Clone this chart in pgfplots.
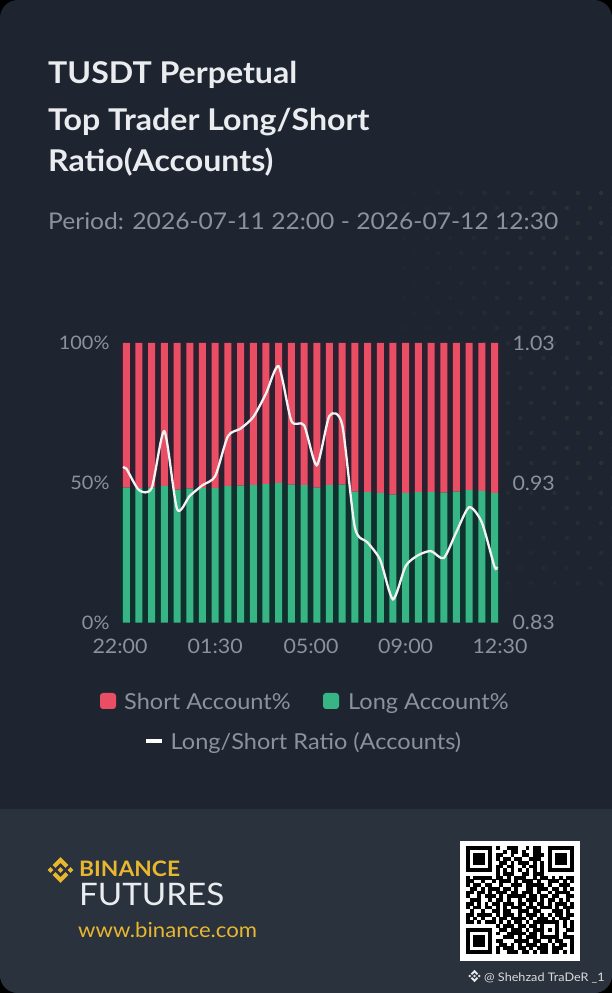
\documentclass[border=0pt]{standalone}
\usepackage{fontspec}
\setmainfont[FakeStretch=1.07]{Lato}
\usepackage{pgfplots}
\usepackage{pgfplotstable}
\pgfplotsset{compat=1.18}
\definecolor{bgmain}{HTML}{1E2530}
\definecolor{bgfoot}{HTML}{2A323E}
\definecolor{cred}{HTML}{E94E64}
\definecolor{cgreen}{HTML}{37B585}
\definecolor{gapred}{HTML}{2B2030}
\definecolor{gapgreen}{HTML}{10302E}
\definecolor{tgrey}{HTML}{8A929E}
\definecolor{ttitle}{HTML}{EAECEF}
\definecolor{gold}{HTML}{E8B62F}
\definecolor{dotc}{HTML}{C8A85A}
\pgfplotstableread{
i long short
0 48.3 51.7
1 48.1 51.9
2 48.3 51.7
3 48.9 51.1
4 47.6 52.4
5 47.9 52.1
6 48.2 51.8
7 48.1 51.9
8 48.9 51.1
9 49.0 51.0
10 49.3 50.7
11 49.5 50.5
12 50.0 50.0
13 49.4 50.6
14 49.2 50.8
15 48.3 51.7
16 49.3 50.7
17 49.4 50.6
18 46.9 53.1
19 46.7 53.3
20 46.4 53.6
21 45.8 54.2
22 46.4 53.6
23 46.7 53.3
24 46.7 53.3
25 46.5 53.5
26 46.9 53.1
27 47.4 52.6
28 47.1 52.9
29 46.4 53.6
}\datatable
\pgfplotstableread{
x ratio
-0.25 0.9405
0 0.9402
1 0.9248
2 0.9264
3 0.9669
4 0.9112
5 0.9207
6 0.9283
7 0.9348
8 0.9633
9 0.9688
10 0.9771
11 0.9938
12 1.0133
13 0.9743
14 0.9712
15 0.9426
16 0.9779
17 0.9717
18 0.8981
19 0.8874
20 0.8748
21 0.8467
22 0.8705
23 0.8783
24 0.8812
25 0.8762
26 0.8950
27 0.9126
28 0.9017
29 0.8700
29.2 0.8700
}\ratiotable
\newcount\qrx
\newcount\qry
\def\qrscan#1{\ifx#1\relax\else\ifx#1X\fill[black] ({466+3.72*\qrx},{993-846-3.72*\qry}) rectangle ({466+3.72*(\qrx+1)+0.1},{993-846-3.72*(\qry+1)-0.1});\fi\advance\qrx by 1 \expandafter\qrscan\fi}
\def\qrrow#1{\qrx=0 \qrscan#1\relax\advance\qry by 1 }
\def\binlogo#1#2#3#4{%
\begin{scope}[shift={(#1,#2)},x=#3pt,y=#3pt]
\fill[#4] (-24.57,10.11)--(0,34.68)--(24.59,10.09)--(38.89,24.39)--(0,63.3)--(-38.88,24.41)--cycle;
\fill[#4] (-24.57,-10.11)--(0,-34.68)--(24.59,-10.09)--(38.89,-24.39)--(0,-63.3)--(-38.88,-24.41)--cycle;
\fill[#4] (-63.3,0)--(-49,14.3)--(-34.7,0)--(-49,-14.3)--cycle;
\fill[#4] (63.3,0)--(49,14.3)--(34.7,0)--(49,-14.3)--cycle;
\fill[#4] (0,14.51)--(14.51,0)--(0,-14.51)--(-14.51,0)--cycle;
\end{scope}}
\begin{document}
\begin{tikzpicture}[x=1pt,y=1pt]
\path[use as bounding box] (0,0) rectangle (612,993);
\fill[black] (0,0) rectangle (612,993);
\fill[bgmain,rounded corners=18pt] (0,0) rectangle (612,993);
\begin{scope}
\clip[rounded corners=18pt] (0,0) rectangle (612,993);
\fill[bgfoot] (0,0) rectangle (612,184);
% faint decorative dots
\foreach \r in {0,...,26}{
  \pgfmathsetmacro{\yy}{993-193-15*\r}
  \pgfmathsetmacro{\xo}{mod(\r,2)==0 ? 438 : 427}
  \foreach \c in {-2,...,8}{
    \pgfmathsetmacro{\xx}{\xo+23.3*\c}
    \pgfmathsetmacro{\op}{max(0,min(0.1,0.1*(\xx-370)/230))*max(0,min(1,(\yy-370)/250+0.35))}
    \fill[dotc,opacity=\op] (\xx,\yy) circle (2.2pt);
  }
}
\end{scope}
% titles
\node[anchor=base west,inner sep=0,font=\fontsize{30}{30}\selectfont\bfseries,text=ttitle] at (48,993-83.7) {TUSDT Perpetual};
\node[anchor=base west,inner sep=0,font=\fontsize{30}{30}\selectfont\bfseries,text=ttitle] at (48,993-130.3) {Top Trader Long/Short};
\node[anchor=base west,inner sep=0,font=\fontsize{30}{30}\selectfont\bfseries,text=ttitle] at (48,993-171.7) {Ratio(Accounts)};
\node[anchor=base west,inner sep=0,font=\fontsize{23}{23}\selectfont,text=tgrey] at (48,993-229.3) {Period: 2026-07-11 22:00 - 2026-07-12 12:30};
% backdrop
\begin{axis}[at={(120pt,370.3pt)},anchor=south west,scale only axis,width=380pt,height=279.7pt,
  xmin=-0.496,xmax=29.43,ymin=0,ymax=100,axis lines=none,ybar stacked,bar width=12.7pt]
\addplot[fill=gapgreen,draw=none] table[x=i,y=long]{\datatable};
\addplot[fill=gapred,draw=none] table[x=i,y=short]{\datatable};
\end{axis}
% bars
\begin{axis}[at={(120pt,370.3pt)},anchor=south west,scale only axis,width=380pt,height=279.7pt,
  xmin=-0.496,xmax=29.43,ymin=0,ymax=100,axis line style={draw=none},major tick length=0pt,
  ybar stacked,bar width=7pt,
  xtick={-0.496,7,14.55,22,29.43},xticklabels={22:00,01:30,05:00,09:00,12:30},
  ytick={0,50,100},yticklabels={0\%,50\%,100\%},
  tick label style={text=tgrey,font=\fontsize{20}{20}\selectfont},
  yticklabel style={anchor=east,xshift=-7pt,font=\fontsize{18.6}{18.6}\selectfont},
  xticklabel style={anchor=base,yshift=-31pt}]
\addplot[fill=cgreen,draw=none] table[x=i,y=long]{\datatable};
\addplot[fill=cred,draw=none] table[x=i,y=short]{\datatable};
\end{axis}
% ratio
\begin{axis}[at={(120pt,370.3pt)},anchor=south west,scale only axis,width=380pt,height=279.7pt,
  xmin=-0.496,xmax=29.43,ymin=0.83,ymax=1.03,axis line style={draw=none},major tick length=0pt,
  xtick=\empty,ytick={0.83,0.93,1.03},yticklabels={0.83,0.93,1.03},yticklabel pos=right,
  tick label style={text=tgrey,font=\fontsize{20}{20}\selectfont},
  yticklabel style={anchor=west,xshift=9pt}]
\addplot[color=white!95!black,line width=2.3pt,smooth,tension=0.42,mark=none] table[x=x,y=ratio]{\ratiotable};
\end{axis}
% legend
\fill[cred,rounded corners=3pt] (100,993-693) rectangle (116,993-709);
\node[anchor=base west,inner sep=0,font=\fontsize{22}{22}\selectfont,text=tgrey] at (124,993-709.3) {Short Account\%};
\fill[cgreen,rounded corners=3pt] (323,993-693) rectangle (339,993-709);
\node[anchor=base west,inner sep=0,font=\fontsize{22}{22}\selectfont,text=tgrey] at (348,993-709.3) {Long Account\%};
\draw[white,line width=4pt] (146,993-741) -- (162,993-741);
\node[anchor=base west,inner sep=0,font=\fontsize{22}{22}\selectfont,text=tgrey] at (170.5,993-749.8) {Long/Short Ratio (Accounts)};
% footer brand
\binlogo{60.5}{123}{0.205}{gold}
\node[anchor=base west,inner sep=0,font=\fontsize{21.3}{21.3}\selectfont\bfseries,text=gold] at (79,993-877) {BINANCE};
\node[anchor=base west,inner sep=0,font=\fontsize{31}{31}\selectfont,text=ttitle] at (79,993-905.5) {FUTURES};
\node[anchor=base west,inner sep=0,font=\fontsize{20.7}{20.7}\selectfont,text=gold] at (78,993-937.7) {www.binance.com};
% QR
\fill[white] (460,993-841) rectangle (580,993-961);
\qry=0
\qrrow{XXXXXXX.X..XXX..X.XX..XXXXXXX}
\qrrow{X.....X...X.XX.X..XX..X.....X}
\qrrow{X.XXX.X.XX..X..XX.XXX.X.XXX.X}
\qrrow{X.XXX.X.X.XX.XX..XXX..X.XXX.X}
\qrrow{X.XXX.X..XX.X.XXX.X.X.X.XXX.X}
\qrrow{X.....X.XX.XX..X.XX.X.X.....X}
\qrrow{XXXXXXX.X.X.X.X.X.X.X.XXXXXXX}
\qrrow{........X.XXX..XX.XXX........}
\qrrow{X.XXXXX.XX.X.XXX..X.XX.X.X.XX}
\qrrow{XX..X..X.XXX.X.XXX.X..XXX.X.X}
\qrrow{X.XX.XX..X..XXX.XXXXX.X..XXX.}
\qrrow{.XX.X.XXX.XX.X..XX.XXX.XX.X.X}
\qrrow{XX.XX.X.XXX.XX.XXX.X..X.XXXX.}
\qrrow{X..X.XXX.X.XXXXX.XX.XX.XX..XX}
\qrrow{.XXX..X.XX.X..X.XXX.X.XX.X.X.}
\qrrow{XX.X.X.XX.XXX.XX.X.XX.X.XXX.X}
\qrrow{X.XX.XX.X.X.XXX.XXX.XXX.X.XXX}
\qrrow{.X..X..XX.XX..XXX.XX...XXX.X.}
\qrrow{XX.XXXX.X.XXX.X.XXX.X.X.XX.XX}
\qrrow{X.X.X..X.XX.XXXX.X.XXX.X.XXX.}
\qrrow{XX.X.XXX.X.X.XX.X.XXXXXXX.X.X}
\qrrow{........X.XXX.XX.XX.X...X.X.X}
\qrrow{XXXXXXX..XX.XXX.X.XXX.X.X..XX}
\qrrow{X.....X.X..XXXXX.XX.X...X.X..}
\qrrow{X.XXX.X...XXX.X.XXX.XXXXX.XXX}
\qrrow{X.XXX.X.XX...XXXX.XX..X.XX..X}
\qrrow{X.XXX.X..XX.X.X.XXX.XX.X.XX.X}
\qrrow{X.....X.X.XXX.XX.X.XXX.XXX..X}
\qrrow{XXXXXXX.X..XXX.XX.X.XX.XX.X.X}
% watermark
\binlogo{474.5}{17}{0.095}{white!80!gray}
\node[anchor=base west,inner sep=0,font=\fontsize{11.8}{11.8}\selectfont,text=white!72!gray] at (484,993-981) {@ Shehzad TraDeR \_1};
\end{tikzpicture}
\end{document}
